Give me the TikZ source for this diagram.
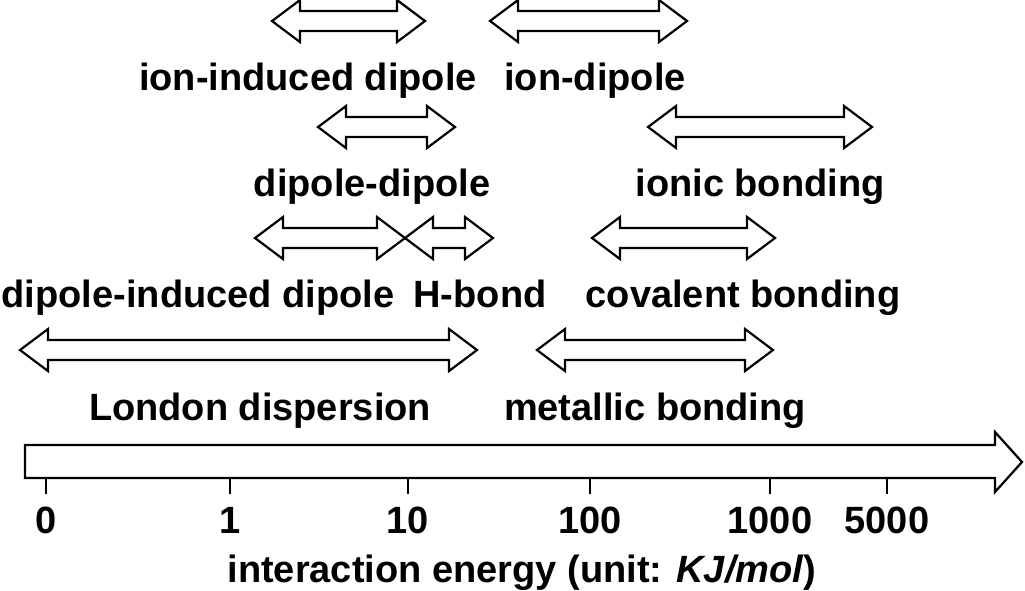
\documentclass[tikz,border=0pt]{standalone}
\usepackage{fontspec}
\setmainfont{Liberation Sans}
\begin{document}
\begin{tikzpicture}[x=1pt,y=-1pt,
  lab/.style={font=\fontsize{38}{42}\selectfont\bfseries, inner sep=0pt, anchor=base},
  arr/.style={draw=black, line width=2.2pt, fill=white, line join=miter},
  tick/.style={line width=2pt}]
\useasboundingbox (0,0) rectangle (1025,590);
\newcommand\dar[3]{%
  \draw[arr] (#1,#3) -- (#1+28,#3-21) -- (#1+28,#3-10) -- (#2-28,#3-10) -- (#2-28,#3-21)
   -- (#2,#3) -- (#2-28,#3+21) -- (#2-28,#3+10) -- (#1+28,#3+10) -- (#1+28,#3+21) -- cycle;}
\dar{272}{425}{21}
\dar{490}{687}{21}
\dar{318}{455}{127}
\dar{648}{872}{127}
\dar{255}{405}{238}
\dar{405}{493}{238}
\dar{592}{775}{238}
\dar{20}{477}{350}
\dar{537}{773}{350}
\node[lab] (l1) at (308,90) {ion-induced dipole};
\node[lab] (l2) at (595,90) {ion-dipole};
\node[lab] (l3) at (372,196) {dipole-dipole};
\node[lab] (l4) at (760,196) {ionic bonding};
\node[lab] (l5) at (198,307) {dipole-induced dipole};
\node[lab] (l6) at (480,307) {H-bond};
\node[lab] (l7) at (743,307) {covalent bonding};
\node[lab] (l8) at (260,420) {London dispersion};
\node[lab] (l9) at (655,420) {metallic bonding};
% axis
\draw[arr] (25,445) -- (995,445) -- (995,432) -- (1022,462) -- (995,492) -- (995,478) -- (25,478) -- cycle;
\foreach \x/\t in {46/0,230/1,408/10,590/100,770/1000,887/5000}{
  \draw[tick] (\x,478) -- (\x,494);
  \node[lab] (t\t) at (\x,533) {\t};}
\node[lab] (title) at (522,582) {interaction energy (unit: \textit{KJ/mol})};
\end{tikzpicture}
\end{document}
